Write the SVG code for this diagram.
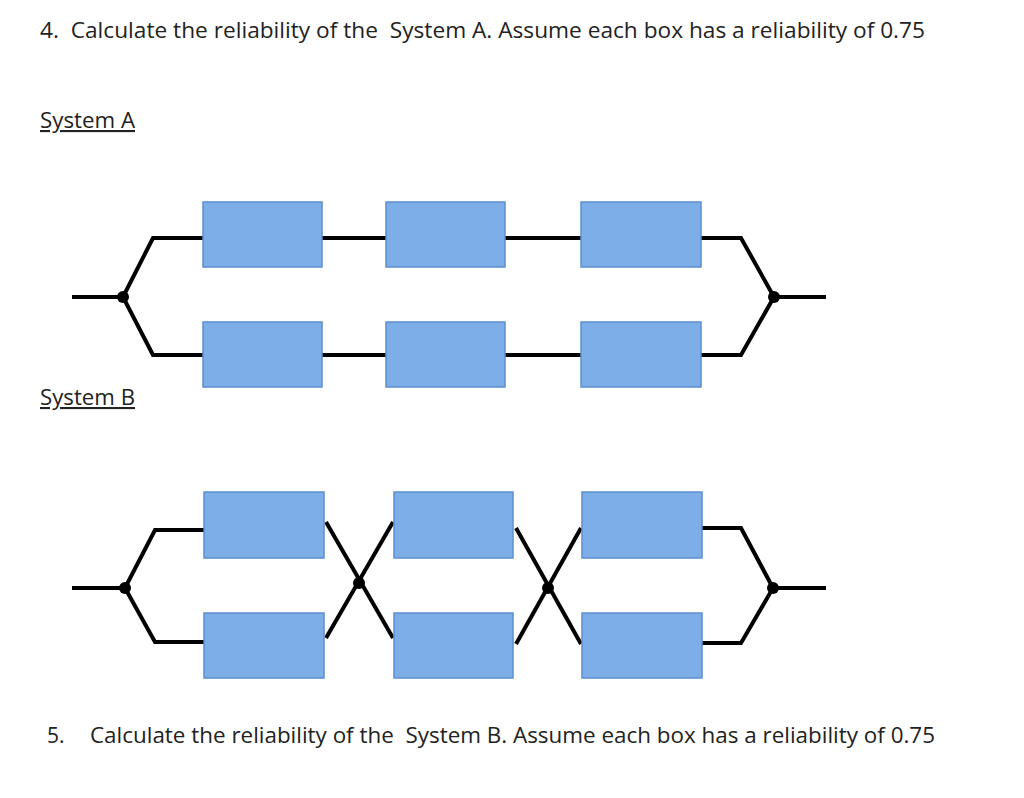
<svg xmlns="http://www.w3.org/2000/svg" width="1024" height="798" viewBox="0 0 1024 798">
<style>
.t{font-family:"Open Sans","Liberation Sans",sans-serif;font-size:21px;fill:#222;white-space:pre}
.b{fill:#7eaee8;stroke:#5b8fcf;stroke-width:1.5}
.w{stroke:#000;stroke-width:4;fill:none}
</style>
<rect width="1024" height="798" fill="#fff"/>
<text class="t" x="40" y="38" textLength="885" lengthAdjust="spacingAndGlyphs" xml:space="preserve">4.  Calculate the reliability of the  System A. Assume each box has a reliability of 0.75</text>
<text class="t" x="40" y="128" textLength="95" lengthAdjust="spacingAndGlyphs" text-decoration="underline">System A</text>
<text class="t" x="40" y="405" textLength="95" lengthAdjust="spacingAndGlyphs" text-decoration="underline">System B</text>
<text class="t" x="47" y="743">5.</text>
<text class="t" x="90" y="743" textLength="845" lengthAdjust="spacingAndGlyphs" xml:space="preserve">Calculate the reliability of the  System B. Assume each box has a reliability of 0.75</text>
<g id="connectors">
<polyline class="w" points="72,297 123,297 153,238 203,238"/>
<polyline class="w" points="123,297 153,355 203,355"/>
<line class="w" x1="322" y1="238" x2="386" y2="238"/>
<line class="w" x1="505" y1="238" x2="581" y2="238"/>
<line class="w" x1="322" y1="355" x2="386" y2="355"/>
<line class="w" x1="505" y1="355" x2="581" y2="355"/>
<polyline class="w" points="701,238 741,238 774,297 826,297"/>
<polyline class="w" points="701,355 741,355 774,297"/>
<circle cx="123" cy="297" r="6"/><circle cx="774" cy="297" r="6"/>
<polyline class="w" points="72,588 125,588 155,530 204,530"/>
<polyline class="w" points="125,588 155,642 204,642"/>
<line class="w" x1="326" y1="522" x2="393" y2="638"/>
<line class="w" x1="326" y1="638" x2="393" y2="522"/>
<line class="w" x1="516" y1="528" x2="581" y2="644"/>
<line class="w" x1="516" y1="644" x2="581" y2="528"/>
<circle cx="359" cy="583" r="6"/><circle cx="548" cy="588" r="6"/>
<polyline class="w" points="702,528 741,528 773,588 826,588"/>
<polyline class="w" points="702,643 741,643 773,588"/>
<circle cx="125" cy="588" r="6"/><circle cx="773" cy="588" r="6"/>
</g>
<g id="a1"><rect class="b" x="203" y="202" width="119" height="65"/></g>
<g id="a2"><rect class="b" x="386" y="202" width="119" height="65"/></g>
<g id="a3"><rect class="b" x="581" y="202" width="120" height="65"/></g>
<g id="a4"><rect class="b" x="203" y="322" width="119" height="65"/></g>
<g id="a5"><rect class="b" x="386" y="322" width="119" height="65"/></g>
<g id="a6"><rect class="b" x="581" y="322" width="120" height="65"/></g>
<g id="b1"><rect class="b" x="204" y="492" width="120" height="66"/></g>
<g id="b2"><rect class="b" x="394" y="492" width="119" height="66"/></g>
<g id="b3"><rect class="b" x="582" y="492" width="120" height="66"/></g>
<g id="b4"><rect class="b" x="204" y="613" width="120" height="65"/></g>
<g id="b5"><rect class="b" x="394" y="613" width="119" height="65"/></g>
<g id="b6"><rect class="b" x="582" y="613" width="120" height="65"/></g>
</svg>
